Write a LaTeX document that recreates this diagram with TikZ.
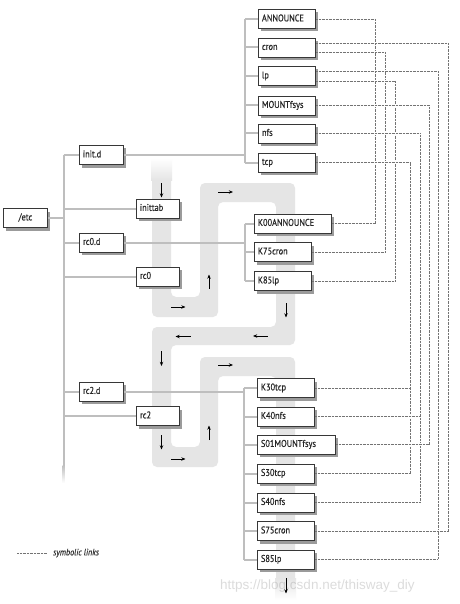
\documentclass[tikz,border=0pt]{standalone}
\usepackage{fontspec}
\setmainfont[FakeStretch=0.85,FakeBold=0.4]{PT Sans}
\newfontfamily\wmfont{Liberation Sans}
\usetikzlibrary{shadows,arrows.meta,calc}
\definecolor{bandgray}{RGB}{229,229,229}
\definecolor{treegray}{RGB}{190,190,190}
\definecolor{boxline}{RGB}{55,55,55}
\definecolor{shadowgray}{RGB}{155,155,155}
\definecolor{linkgray}{RGB}{115,115,115}
\tikzset{
  fbox/.style={draw=boxline, line width=0.9pt, fill=white, minimum height=19pt,
    inner xsep=3.5pt, inner ysep=0pt, anchor=west, align=left,
    text height=7pt, text depth=2.2pt, text=black!85,
    font=\fontsize{9.8}{10}\selectfont,
    drop shadow={shadow xshift=3pt, shadow yshift=-3pt, fill=shadowgray, opacity=1}},
  wA/.style={fbox, text width=50pt},
  wB/.style={fbox, text width=37pt},
  wC/.style={fbox, text width=36pt},
  wD/.style={fbox, text width=70pt},
  wE/.style={fbox, text width=71pt},
  tree/.style={draw=treegray, line width=2pt},
  link/.style={draw=linkgray, line width=0.5pt, dash pattern=on 0.6pt off 0.8pt},
  linkbg/.style={draw=white, line width=2.6pt},
  arr/.style={-{Stealth[length=4.2pt,width=3.4pt]}, line width=0.75pt, black},
}
\newcommand\linkh[2]{%
  \draw[linkbg] ($(#1)+(4,0)$) -- ($(#2 |- #1)+(-2.5,0)$);
  \draw[link] (#1) -- (#2 |- #1);}
\begin{document}
\begin{tikzpicture}[x=1pt,y=-1pt]
\useasboundingbox[fill=white] (0,0) rectangle (459,604);
% flow band
\fill[bandgray, rounded corners=5pt]
  (152,160) -- (171,160) -- (171,297) -- (200,297) -- (200,183) -- (295,183)
  -- (295,345) -- (171,345) -- (171,447) -- (200,447) -- (200,357) -- (295,357)
  -- (295,598) -- (276,598) -- (276,376) -- (218,376) -- (218,467) -- (152,467)
  -- (152,327) -- (276,327) -- (276,202) -- (218,202) -- (218,317) -- (152,317)
  -- cycle;
\shade[top color=white, bottom color=bandgray] (151,158) rectangle (172,180);
\shade[top color=bandgray, bottom color=white] (275,578) rectangle (296,600);

% coordinates
\coordinate (mv) at (63.5,0);
\coordinate (iv) at (245,0);
\coordinate (kv) at (244.5,0);
\coordinate (sv) at (244,0);
\coordinate (vA) at (375,0);
\coordinate (vB) at (385,0);
\coordinate (vC) at (395,0);
\coordinate (vD) at (410,0);
\coordinate (vE) at (420,0);
\coordinate (vF) at (429,0);
\coordinate (vG) at (438,0);
\coordinate (vH) at (448,0);
\coordinate (mvtop) at (63.5,155);
\coordinate (mvbot) at (63.5,466);

% main tree line
\draw[tree] (mvtop) -- (mvbot);
\shade[top color=treegray, bottom color=white] (62.5,465) rectangle (64.5,483);

% nodes
\node[wB, align=center] (etc) at (3,218) {/etc};
\node[wB] (initd) at (79,155) {init.d};
\node[wC] (inittab) at (136,208.5) {inittab};
\node[wB] (rc0d) at (79,242.5) {rc0.d};
\node[wC] (rc0) at (136,276.5) {rc0};
\node[wB] (rc2d) at (79,391.5) {rc2.d};
\node[wC] (rc2) at (136,416) {rc2};

\node[wA] (announce) at (258,19) {ANNOUNCE};
\node[wA] (cron) at (258,47.5) {cron};
\node[wA] (lp) at (258,76) {lp};
\node[wA] (mount) at (258,105.5) {MOUNTfsys};
\node[wA] (nfs) at (258,133.5) {nfs};
\node[wA] (tcp) at (258,162.5) {tcp};

\node[wD] (k00) at (254,223.5) {K00ANNOUNCE};
\node[wA] (k75) at (254,252) {K75cron};
\node[wA] (k85) at (254,281) {K85lp};

\node[wA] (k30) at (257,388) {K30tcp};
\node[wA] (k40) at (257,416.5) {K40nfs};
\node[wE] (s01) at (257,444.5) {S01MOUNTfsys};
\node[wA] (s30) at (257,473.5) {S30tcp};
\node[wA] (s40) at (257,502.5) {S40nfs};
\node[wA] (s75) at (257,531) {S75cron};
\node[wA] (s85) at (257,559.5) {S85lp};

% tree connectors
\draw[tree] (etc.east) -- (etc.east -| mv);
\draw[tree] (initd.west -| mv) -- (initd.west);
\draw[tree] (inittab.west -| mv) -- (inittab.west);
\draw[tree] (rc0d.west -| mv) -- (rc0d.west);
\draw[tree] (rc0.west -| mv) -- (rc0.west);
\draw[tree] (rc2d.west -| mv) -- (rc2d.west);
\draw[tree] (rc2.west -| mv) -- (rc2.west);

\draw[tree] (initd.east) -- (initd.east -| iv);
\draw[tree] (announce.west -| iv) -- (tcp.west -| iv);
\foreach \n in {announce,cron,lp,mount,nfs,tcp}
  \draw[tree] (\n.west -| iv) -- (\n.west);

\draw[tree] (rc0d.east) -- (rc0d.east -| kv);
\draw[tree] (k00.west -| kv) -- (k85.west -| kv);
\foreach \n in {k00,k75,k85}
  \draw[tree] (\n.west -| kv) -- (\n.west);

\draw[tree] (rc2d.east) -- (rc2d.east -| sv);
\draw[tree] (k30.west -| sv) -- (s85.west -| sv);
\foreach \n in {k30,k40,s01,s30,s40,s75,s85}
  \draw[tree] (\n.west -| sv) -- (\n.west);

% flow arrows
\draw[arr] (161.5,183) -- (161.5,197.5);
\draw[arr] (218,192) -- (233,192);
\draw[arr] (209,288.5) -- (209,274.5);
\draw[arr] (171,307) -- (185.5,307);
\draw[arr] (286,303) -- (286,317.5);
\draw[arr] (267.5,336) -- (253,336);
\draw[arr] (190.5,336.5) -- (175.5,336.5);
\draw[arr] (161.5,351) -- (161.5,366);
\draw[arr] (218,365) -- (233,365);
\draw[arr] (209,440) -- (209,425.5);
\draw[arr] (161.5,435) -- (161.5,449.5);
\draw[arr] (171,459) -- (185.5,459);
\draw[arr] (286,578) -- (286,593.5);

% symbolic link coordinates
\coordinate (cronU) at ([yshift=4.5pt]cron.east);
\coordinate (cronL) at ([yshift=-4.5pt]cron.east);
\coordinate (lpU) at ([yshift=5pt]lp.east);
\coordinate (lpL) at ([yshift=-5pt]lp.east);

% verticals
\draw[link] (vA |- announce.east) -- (vA |- k00.east);
\draw[link] (vB |- cronL) -- (vB |- k75.east);
\draw[link] (vC |- lpL) -- (vC |- k85.east);
\draw[link] (vD |- tcp.east) -- (vD |- s30.east);
\draw[link] (vE |- nfs.east) -- (vE |- s40.east);
\draw[link] (vF |- mount.east) -- (vF |- s01.east);
\draw[link] (vG |- lpU) -- (vG |- s85.east);
\draw[link] (vH |- cronU) -- (vH |- s75.east);

% horizontals
\linkh{announce.east}{vA}
\linkh{cronU}{vH}
\linkh{cronL}{vB}
\linkh{lpU}{vG}
\linkh{lpL}{vC}
\linkh{mount.east}{vF}
\linkh{nfs.east}{vE}
\linkh{tcp.east}{vD}
\linkh{k00.east}{vA}
\linkh{k75.east}{vB}
\linkh{k85.east}{vC}
\linkh{k30.east}{vD}
\linkh{k40.east}{vE}
\linkh{s01.east}{vF}
\linkh{s30.east}{vD}
\linkh{s40.east}{vE}
\linkh{s75.east}{vH}
\linkh{s85.east}{vG}

% legend
\coordinate (lg1) at (17,553);
\coordinate (lg2) at (47,553);
\draw[link] (lg1) -- (lg2);
\node[anchor=west, inner sep=0pt, text=black!80, font=\fontsize{9.4}{10}\selectfont\itshape] (legend) at (53,553) {symbolic links};

% watermark
\node[anchor=west, inner sep=0pt, text=gray, opacity=0.28, font=\wmfont\fontsize{13.5}{14}\selectfont] (wm) at (220,586) {https://blog.csdn.net/thisway\_diy};
\end{tikzpicture}
\end{document}
